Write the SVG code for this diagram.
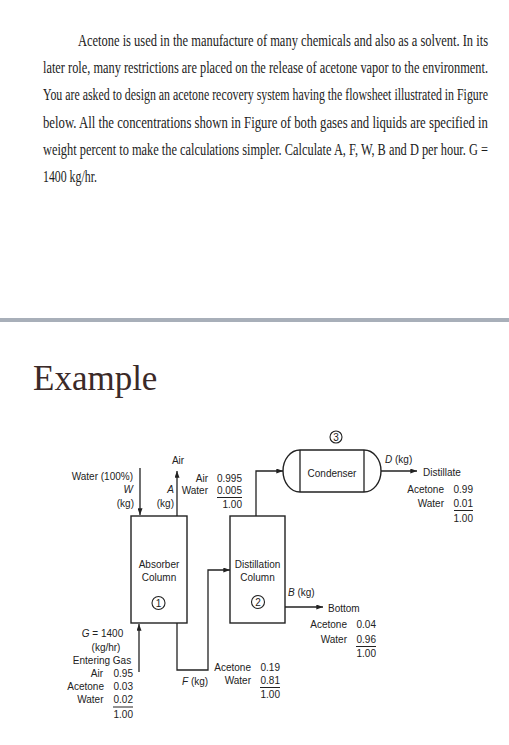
<svg xmlns="http://www.w3.org/2000/svg" width="509" height="745" viewBox="0 0 509 745">
<style>
.p{font-family:"Liberation Serif","Times New Roman",serif;font-size:17px;fill:#1c1c1c}
.t{font-family:"Liberation Sans",Arial,sans-serif;font-size:10px;fill:#222}
.e{text-anchor:end}.m{text-anchor:middle}.i{font-style:italic}
.ln{fill:none;stroke:#222;stroke-width:1.3}
.box{fill:#fff;stroke:#222;stroke-width:1.4}
.u{stroke:#222;stroke-width:1}
</style>
<defs>
<marker id="ah" viewBox="0 0 8 6" refX="8" refY="3" markerWidth="7" markerHeight="5" markerUnits="userSpaceOnUse" orient="auto">
<path d="M0,0 L8,3 L0,6 Z" fill="#222"/>
</marker>
</defs>
<rect width="509" height="745" fill="#fff"/>
<g id="paragraph">
<text class="p" transform="matrix(0.7,0,0,1,78,46)" x="0" y="0" textLength="585.7" lengthAdjust="spacingAndGlyphs">Acetone is used in the manufacture of many chemicals and also as a solvent. In its</text>
<text class="p" transform="matrix(0.7,0,0,1,43,73)" x="0" y="0" textLength="635.7" lengthAdjust="spacingAndGlyphs">later role, many restrictions are placed on the release of acetone vapor to the environment.</text>
<text class="p" transform="matrix(0.7,0,0,1,43,100)" x="0" y="0" textLength="635.7" lengthAdjust="spacingAndGlyphs">You are asked to design an acetone recovery system having the flowsheet illustrated in Figure</text>
<text class="p" transform="matrix(0.7,0,0,1,43,128)" x="0" y="0" textLength="635.7" lengthAdjust="spacingAndGlyphs">below. All the concentrations shown in Figure of both gases and liquids are specified in</text>
<text class="p" transform="matrix(0.7,0,0,1,43,155)" x="0" y="0" textLength="635.7" lengthAdjust="spacingAndGlyphs">weight percent to make the calculations simpler. Calculate A, F, W, B and D per hour. G =</text>
<text class="p" transform="matrix(0.7,0,0,1,43,182)" x="0" y="0" textLength="77" lengthAdjust="spacingAndGlyphs">1400 kg/hr.</text>
</g>
<rect x="0" y="318" width="509" height="4" fill="#a8afb9"/>
<text x="33" y="390" font-family="Liberation Serif,'Times New Roman',serif" font-size="35" fill="#3b2a28">Example</text>
<g id="connectors">
<path class="ln" d="M140 468 V515" marker-end="url(#ah)"/>
<path class="ln" d="M177 516 V471" marker-end="url(#ah)"/>
<path class="ln" d="M256 516 V471 H283" marker-end="url(#ah)"/>
<path class="ln" d="M381 471 H417" marker-end="url(#ah)"/>
<path class="ln" d="M139 672 V624" marker-end="url(#ah)"/>
<path class="ln" d="M177 623 V670 H208 V570 H230" marker-end="url(#ah)"/>
<path class="ln" d="M285 607 H323" marker-end="url(#ah)"/>
</g>
<g id="absorber">
<rect class="box" x="131" y="516" width="56" height="107"/>
<text class="t m" x="159" y="568">Absorber</text>
<text class="t m" x="159" y="581">Column</text>
<circle cx="158.5" cy="603" r="6.5" fill="none" stroke="#222" stroke-width="1.1"/>
<text class="t m" x="158.5" y="606.5" font-size="9">1</text>
</g>
<g id="distillation">
<rect class="box" x="230" y="516" width="55" height="107"/>
<text class="t m" x="257.5" y="568">Distillation</text>
<text class="t m" x="257.5" y="581">Column</text>
<circle cx="258" cy="602" r="6.5" fill="none" stroke="#222" stroke-width="1.1"/>
<text class="t m" x="258" y="605.5" font-size="9">2</text>
</g>
<g id="condenser">
<path class="box" d="M300 450 H364 A17 21 0 0 1 364 492 H300 A17 21 0 0 1 300 450 Z"/>
<path class="ln" d="M300 450 V492 M364 450 V492"/>
<text class="t m" x="332" y="477">Condenser</text>
<circle cx="336" cy="437" r="6" fill="none" stroke="#222" stroke-width="1.1"/>
<text class="t m" x="336" y="440.5" font-size="9">3</text>
</g>
<g id="water-in">
<text class="t e" x="133" y="480">Water (100%)</text>
<text class="t e i" x="133" y="493">W</text>
<text class="t e" x="134" y="507">(kg)</text>
</g>
<g id="air-out">
<text class="t m" x="178" y="464">Air</text>
<text class="t e i" x="174" y="493">A</text>
<text class="t e" x="174" y="507">(kg)</text>
<text class="t e" x="208" y="482">Air</text>
<text class="t e" x="242" y="482">0.995</text>
<text class="t e" x="208" y="494">Water</text>
<text class="t e" x="242" y="494">0.005</text>
<line class="u" x1="217" y1="497.5" x2="242" y2="497.5"/>
<text class="t e" x="242" y="508">1.00</text>
</g>
<g id="distillate">
<text class="t" x="385" y="463"><tspan font-style="italic">D</tspan> (kg)</text>
<text class="t" x="423" y="476">Distillate</text>
<text class="t e" x="444" y="493">Acetone</text>
<text class="t e" x="473" y="493">0.99</text>
<text class="t e" x="444" y="507">Water</text>
<text class="t e" x="473" y="507">0.01</text>
<line class="u" x1="454" y1="510.5" x2="473" y2="510.5"/>
<text class="t e" x="473" y="522">1.00</text>
</g>
<g id="bottom">
<text class="t" x="288" y="596"><tspan font-style="italic">B</tspan> (kg)</text>
<text class="t" x="328" y="612">Bottom</text>
<text class="t e" x="347" y="628">Acetone</text>
<text class="t e" x="376" y="628">0.04</text>
<text class="t e" x="347" y="643">Water</text>
<text class="t e" x="376" y="643">0.96</text>
<line class="u" x1="356" y1="646.5" x2="376" y2="646.5"/>
<text class="t e" x="376" y="657">1.00</text>
</g>
<g id="entering-gas">
<text class="t m" x="102.5" y="637"><tspan font-style="italic">G</tspan> = 1400</text>
<text class="t m" x="106" y="651">(kg/hr)</text>
<text class="t m" x="102" y="664">Entering Gas</text>
<text class="t e" x="103" y="677">Air</text>
<text class="t e" x="133" y="677">0.95</text>
<text class="t e" x="104" y="690">Acetone</text>
<text class="t e" x="133" y="690">0.03</text>
<text class="t e" x="103.5" y="703">Water</text>
<text class="t e" x="133" y="703">0.02</text>
<line class="u" x1="113" y1="707" x2="133" y2="707"/>
<text class="t e" x="133" y="718">1.00</text>
</g>
<g id="feed">
<text class="t" x="182" y="685"><tspan font-style="italic">F</tspan> (kg)</text>
<text class="t e" x="251" y="671">Acetone</text>
<text class="t e" x="280" y="671">0.19</text>
<text class="t e" x="251" y="684">Water</text>
<text class="t e" x="280" y="684">0.81</text>
<line class="u" x1="260" y1="687.5" x2="280" y2="687.5"/>
<text class="t e" x="280" y="698">1.00</text>
</g>
</svg>
